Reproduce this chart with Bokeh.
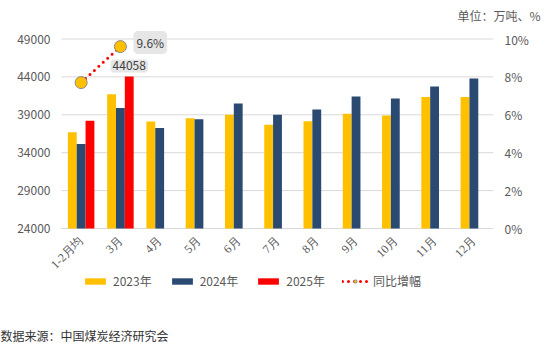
from math import pi
from bokeh.plotting import figure
from bokeh.models import (Range1d, LinearAxis, Legend, LegendItem, ColumnDataSource,
                          Label, LabelSet, Title, FixedTicker, PrintfTickFormatter)
from bokeh.transform import dodge
from bokeh.embed import file_html
from bokeh.resources import INLINE

categories = ["1-2月均", "3月", "4月", "5月", "6月", "7月", "8月", "9月", "10月", "11月", "12月"]
v2023 = [36700, 41700, 38100, 38550, 39000, 37700, 38150, 39150, 38900, 41350, 41350]
v2024 = [35150, 39900, 37250, 38400, 40500, 39000, 39700, 41400, 41150, 42750, 43800]
cats2025 = ["1-2月均", "3月"]
v2025 = [38200, 44058]
growth_cats = ["1-2月均", "3月"]
growth = [7.7, 9.6]
left_ticks = [24000, 29000, 34000, 39000, 44000, 49000]
right_ticks = [0, 2, 4, 6, 8, 10]
unit_text = "单位：万吨、%"
source_text = "数据来源：中国煤炭经济研究会"

FONT = "Noto Sans CJK SC"
GRAY = "#595959"
C23, C24, C25 = "#FFC000", "#2A4A72", "#FF0000"
LBL_BG = "#E7E6E6"

# layout (pixels)
TOP, BOTTOM, AX_TOP, AX_BOT, H = 24, 30, 38.5, 228, 353
LEFT, RIGHT, CAT_LEFT, CAT_RIGHT, WID = 50, 57, 61, 493, 550
frame_bot = H - BOTTOM
n = len(categories)
px_per_cat = (CAT_RIGHT - CAT_LEFT) / n

def ext_range(lo, hi):
    per_px = (hi - lo) / (AX_BOT - AX_TOP)
    return Range1d(lo - (frame_bot - AX_BOT) * per_px, hi + (AX_TOP - TOP) * per_px)

def pos(cats):
    return [categories.index(c) + 0.5 for c in cats]

p = figure(width=WID, height=H,
           x_range=Range1d(-(CAT_LEFT - LEFT) / px_per_cat, n),
           y_range=ext_range(left_ticks[0], left_ticks[-1]),
           x_axis_location=None, output_backend="svg", toolbar_location=None,
           min_border_left=LEFT, min_border_right=RIGHT, min_border_top=TOP,
           min_border_bottom=BOTTOM)
p.outline_line_color = None
p.extra_y_ranges = {"pct": ext_range(right_ticks[0], right_ticks[-1])}
p.xgrid.visible = False
p.ygrid.visible = False

# horizontal grid lines across the category area
p.segment(x0=[0] * len(left_ticks), x1=[n] * len(left_ticks), y0=left_ticks, y1=left_ticks,
          line_color="#d9d9d9", line_width=1)

base = left_ticks[0]
src23 = ColumnDataSource(dict(x=pos(categories), v=v2023))
src24 = ColumnDataSource(dict(x=pos(categories), v=v2024))
src25 = ColumnDataSource(dict(x=pos(cats2025), v=v2025))
W = 0.225
r23 = p.vbar(x=dodge("x", -W), top="v", bottom=base, width=W, source=src23,
             fill_color=C23, line_color=None)
r24 = p.vbar(x=dodge("x", 0), top="v", bottom=base, width=W, source=src24,
             fill_color=C24, line_color=None)
r25 = p.vbar(x=dodge("x", W), top="v", bottom=base, width=W, source=src25,
             fill_color=C25, line_color=None)

srcg = ColumnDataSource(dict(x=pos(growth_cats), g=growth))
rl = p.line(x="x", y="g", source=srcg, y_range_name="pct", line_color="red",
            line_width=3, line_dash="0 6", line_cap="round")
rs = p.scatter(x="x", y="g", source=srcg, y_range_name="pct", size=12,
               fill_color=C23, line_color="#8a8a8a", line_width=1)

# y axes
p.yaxis.ticker = FixedTicker(ticks=left_ticks)
p.yaxis.axis_line_color = None
p.yaxis.major_tick_line_color = None
p.yaxis.minor_tick_line_color = None
p.yaxis.major_tick_out = 0
p.yaxis.major_label_standoff = 0
p.yaxis.major_label_text_font = FONT
p.yaxis.major_label_text_font_size = "12px"
p.yaxis.major_label_text_color = GRAY

ax_r = LinearAxis(y_range_name="pct", ticker=FixedTicker(ticks=right_ticks),
                  formatter=PrintfTickFormatter(format="%d%%"))
ax_r.axis_line_color = None
ax_r.major_tick_line_color = None
ax_r.minor_tick_line_color = None
ax_r.major_label_text_font = FONT
ax_r.major_label_text_font_size = "12px"
ax_r.major_label_text_color = GRAY
p.add_layout(ax_r, "right")

# category labels (rotated) under the base line
srcx = ColumnDataSource(dict(x=pos(categories), y=[base] * n, cat=categories))
p.add_layout(LabelSet(x="x", y="y", text="cat", source=srcx, angle=pi / 4,
                      text_align="right", text_baseline="middle", x_offset=0, y_offset=-10,
                      text_font=FONT, text_font_size="12px", text_color=GRAY))

# data labels
p.add_layout(Label(x=pos(growth_cats)[-1], y=growth[-1], y_range_name="pct",
                   text=f"{growth[-1]}%",
                   x_offset=16, y_offset=4, text_baseline="middle", text_align="left",
                   text_font=FONT, text_font_size="12px", text_color="#404040",
                   background_fill_color=LBL_BG, border_line_color=LBL_BG, border_line_width=6))
p.add_layout(Label(x=pos(cats2025)[-1] + W, y=v2025[-1], text=f"{v2025[-1]}",
                   x_offset=0, y_offset=6, text_baseline="bottom", text_align="center",
                   text_font=FONT, text_font_size="12px", text_color="#404040",
                   background_fill_color=LBL_BG, border_line_color=LBL_BG, border_line_width=4))

legend = Legend(items=[LegendItem(label="2023年", renderers=[r23]),
                       LegendItem(label="2024年", renderers=[r24]),
                       LegendItem(label="2025年", renderers=[r25]),
                       LegendItem(label="同比增幅", renderers=[rl, rs])],
                orientation="horizontal", location=(84 - LEFT - 2, frame_bot - 289),
                label_text_font=FONT, label_text_font_size="12px", label_text_color=GRAY,
                glyph_width=26, glyph_height=8, spacing=17, label_standoff=5,
                border_line_color=None, background_fill_alpha=0, margin=0, padding=2)
p.add_layout(legend, "center")

foot = Title(text=source_text, align="left", text_font=FONT,
             text_font_size="12px", text_font_style="normal", text_color="#333333",
             offset=-LEFT, standoff=2)
p.add_layout(foot, "below")

unit = Title(text=unit_text, align="right", text_font=FONT, text_font_size="12px",
             text_font_style="normal", text_color=GRAY, offset=-47, standoff=2)
p.add_layout(unit, "above")

open("out.html", "w").write(file_html(p, INLINE))
